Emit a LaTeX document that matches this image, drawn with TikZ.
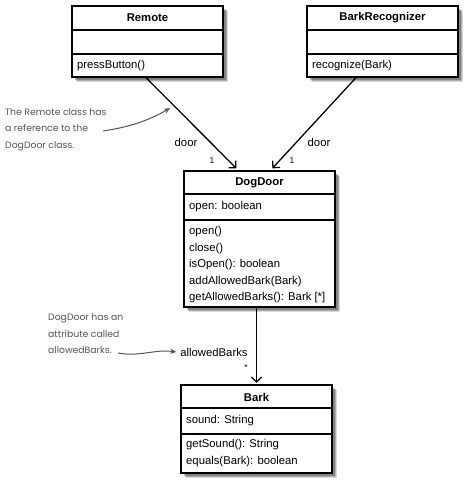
\documentclass[tikz,border=0pt]{standalone}
\usepackage{fontspec}
\setmainfont{Liberation Sans}
\newfontfamily\hand{Poppins}
\usetikzlibrary{arrows.meta,shadows,calc}
\definecolor{notegray}{HTML}{555555}
\begin{document}
\begin{tikzpicture}[x=1pt,y=-1pt,
  cls/.style={draw=black, line width=1.3pt, fill=white, inner sep=0pt,
    minimum width=151pt,
    drop shadow={shadow xshift=4.5pt, shadow yshift=-4.5pt, opacity=0.15, fill=black},
    drop shadow={shadow xshift=3.5pt, shadow yshift=-3.5pt, opacity=0.2, fill=black},
    drop shadow={shadow xshift=2.5pt, shadow yshift=-2.5pt, opacity=0.25, fill=black}},
  div/.style={draw=black, line width=1.1pt},
  ttl/.style={inner sep=0pt, font=\fontsize{11.3}{13}\selectfont\bfseries},
  mem/.style={inner sep=0pt, anchor=west, align=left, font=\fontsize{11.3}{16.5}\selectfont},
  lbl/.style={inner sep=0pt, font=\fontsize{11.3}{13}\selectfont},
  mult/.style={inner sep=0pt, font=\fontsize{8.5}{10}\selectfont},
  assoc/.style={line width=1.3pt, -{Straight Barb[length=5pt,width=10pt,line width=1.3pt]}},
  note/.style={inner sep=0pt, anchor=west, align=left, text=notegray,
    font=\hand\fontsize{9.3}{16.5}\selectfont},
  notearrow/.style={draw=notegray, line width=1pt, -{Stealth[length=6pt,width=5pt]}}
]
\useasboundingbox (0,0) rectangle (474,488);

% Remote
\node[cls, minimum height=71pt] (remote) at (147.5,41.5) {};
\draw[div] (remote.west |- 0,30) -- (remote.east |- 0,30);
\draw[div] (remote.west |- 0,54) -- (remote.east |- 0,54);
\node[ttl] (remoteT) at (147.5,18) {Remote};
\node[mem] (remoteM) at (77,66) {pressButton()};

% BarkRecognizer
\node[cls, minimum height=71pt] (recog) at (382.5,41.5) {};
\draw[div] (recog.west |- 0,30) -- (recog.east |- 0,30);
\draw[div] (recog.west |- 0,54) -- (recog.east |- 0,54);
\node[ttl] (recogT) at (382.5,18) {BarkRecognizer};
\node[mem] (recogM) at (312,66) {recognize(Bark)};

% DogDoor
\node[cls, minimum height=136pt] (door) at (259.5,239) {};
\draw[div] (door.west |- 0,194) -- (door.east |- 0,194);
\draw[div] (door.west |- 0,220) -- (door.east |- 0,220);
\node[ttl] (doorT) at (259.5,183) {DogDoor};
\node[mem] (doorA) at (189,207) {open: boolean};
\node[mem] (doorM) at (189,265) {open()\\close()\\isOpen(): boolean\\addAllowedBark(Bark)\\getAllowedBarks(): Bark [*]};

% Bark
\node[cls, minimum height=88pt] (bark) at (256.5,429) {};
\draw[div] (bark.west |- 0,408) -- (bark.east |- 0,408);
\draw[div] (bark.west |- 0,434) -- (bark.east |- 0,434);
\node[ttl] (barkT) at (256.5,397) {Bark};
\node[mem] (barkA) at (186,421) {sound: String};
\node[mem] (barkM) at (186,453) {getSound(): String\\equals(Bark): boolean};

% associations
\coordinate (remoteEnd) at ($(remote.south)+(-1.5,0)$);
\coordinate (recogEnd) at ($(recog.south)+(-26.5,0)$);
\coordinate (doorIn1) at ($(door.north west)+(53,-2)$);
\coordinate (doorIn2) at ($(door.north west)+(89,-2)$);
\draw[assoc] (remoteEnd) -- (doorIn1);
\draw[assoc] (recogEnd) -- (doorIn2);
\coordinate (doorOut) at (door.south -| bark.north);
\draw[assoc] (doorOut) -- ($(bark.north)+(0,-1.5)$);

\node[lbl] (door1) at (186,142) {door};
\node[lbl] (door2) at (319,142) {door};
\node[mult] (m1) at (212,161) {1};
\node[mult] (m2) at (292,161) {1};
\node[lbl] (ab) at (214,352) {allowedBarks};
\node[mult] (star) at (246,368) {*};

% notes
\node[note] (note1) at (5,129.5) {The Remote class has\\a reference to the\\DogDoor class.};
\coordinate (n1s) at (103,131);
\coordinate (n1e) at (170,108);
\draw[notearrow] (n1s) .. controls (130,127) and (150,120) .. (n1e);

\node[note] (note2) at (48,334) {DogDoor has an\\attribute called\\allowedBarks.};
\coordinate (n2s) at (118,353);
\coordinate (n2e) at ($(ab.west)+(-4,0)$);
\draw[notearrow] (n2s) .. controls (140,357) and (155,349) .. (n2e);
\end{tikzpicture}
\end{document}
